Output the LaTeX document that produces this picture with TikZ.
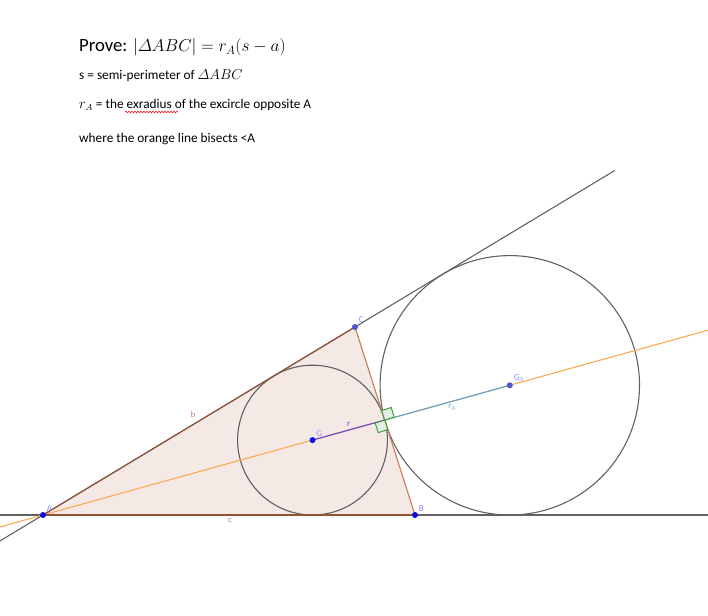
\documentclass[tikz,border=0pt]{standalone}
\usepackage{amsmath}
\usepackage[no-math]{fontspec}
\setmainfont{Carlito}
\usetikzlibrary{calc,decorations.pathmorphing}
\definecolor{ggray}{RGB}{97,97,97}
\definecolor{tribrown}{RGB}{150,80,50}
\definecolor{sidebrown}{RGB}{204,122,85}
\definecolor{trifill}{RGB}{244,233,228}
\definecolor{bisorange}{RGB}{255,168,84}
\definecolor{rpurple}{RGB}{105,70,205}
\definecolor{rablue}{RGB}{95,165,210}
\definecolor{ptblue}{RGB}{10,10,230}
\definecolor{ptsoft}{RGB}{85,85,205}
\definecolor{lblblue}{RGB}{140,140,255}
\definecolor{ragreen}{RGB}{60,150,60}
\begin{document}
\begin{tikzpicture}[x=1pt, y=-1pt,
		pt/.style={circle, fill=ptblue, inner sep=0pt, minimum size=6pt},
		softpt/.style={circle, fill=ptsoft, inner sep=0pt, minimum size=6pt},
		lbl/.style={text=lblblue, font=\fontsize{9}{10}\selectfont, inner sep=1.5pt},
		seglbl/.style={font=\fontsize{8.5}{9}\selectfont, inner sep=0pt},
		txt/.style={anchor=base west, inner sep=0pt, font=\fontsize{13.3}{15}\selectfont},
		thinline/.style={line width=1.1pt},
		ramark/.style={draw=ragreen, fill=ragreen!15, line width=0.9pt}
		]
	\useasboundingbox (0,0) rectangle (708,615);
	% text
	\node [txt, font=\fontsize{18.7}{20}\selectfont] (title) at (79,52) {Prove: {\fontsize{18.2}{20}\selectfont$|\varDelta ABC| = r_A(s-a)$}};
	\node [txt] (line1) at (79,80) {s = semi-perimeter of $\varDelta ABC$};
	\node [txt] (line2) at (79,108) {$r_A$ = the exradius of the excircle opposite A};
	\node [txt] (line3) at (79,142) {where the orange line bisects <A};
	\draw [red, line width=0.5pt, decorate, decoration={snake, amplitude=0.9pt, segment length=3pt}] (125,112) -- (178,112);
	% points (positions only, drawn at the end)
	\coordinate (A) at (43,515);
	\coordinate (B) at (415,515);
	\coordinate (C) at (355,327);
	\coordinate (G) at (312.5,440.1);
	\coordinate (GA) at (509.8,385.3);
	\coordinate (D) at ($(B)!0.505!(C)$);
	% triangle
	\fill [trifill] (A) -- (B) -- (C) -- cycle;
	% lines and circles
	\draw [ggray, thinline] ($(A)!-0.1156!(B)$) -- ($(A)!1.7876!(B)$);
	\draw [ggray, thinline] ($(A)!-0.1378!(C)$) -- ($(A)!1.833!(C)$);
	\draw [ggray, thinline] (G) circle [radius=74.9];
	\draw [ggray, thinline] (GA) circle [radius=129.7];
	\draw [bisorange, thinline] ($(A)!-0.1596!(G)$) -- ($(A)!2.4675!(G)$);
	% sides
	\draw [tribrown, thinline] (A) -- (C) node [seglbl, pos=0.5, above left=3pt, text=sidebrown] (b) {b};
	\draw [tribrown, thinline] (A) -- (B) node [seglbl, pos=0.503, below=3pt, text=sidebrown] (c) {c};
	\draw [sidebrown, thinline] (B) -- (C);
	% radii
	\draw [rpurple, thinline] (G) -- (D) node [seglbl, midway, above=3pt, text=rpurple] (r) {r};
	\draw [rablue, thinline] (D) -- (GA) node [seglbl, pos=0.54, below=3pt, text=rablue] (rA) {r$_{\!A}$};
	\draw [ramark] (D) -- ++(9.53,-3.04) -- ++(-3.04,-9.53) -- ++(-9.53,3.04) -- cycle;
	\draw [ramark] (D) -- ++(-9.53,3.04) -- ++(3.04,9.53) -- ++(9.53,-3.04) -- cycle;
	% points and their labels on top
	\foreach \p/\s/\t in {A/pt/A, B/pt/B, G/pt/G, C/softpt/C, GA/softpt/G$_{\!A}$}
		\node [\s, label={[lbl]above right:\t}] (pt\p) at (\p) {};
\end{tikzpicture}
\end{document}
